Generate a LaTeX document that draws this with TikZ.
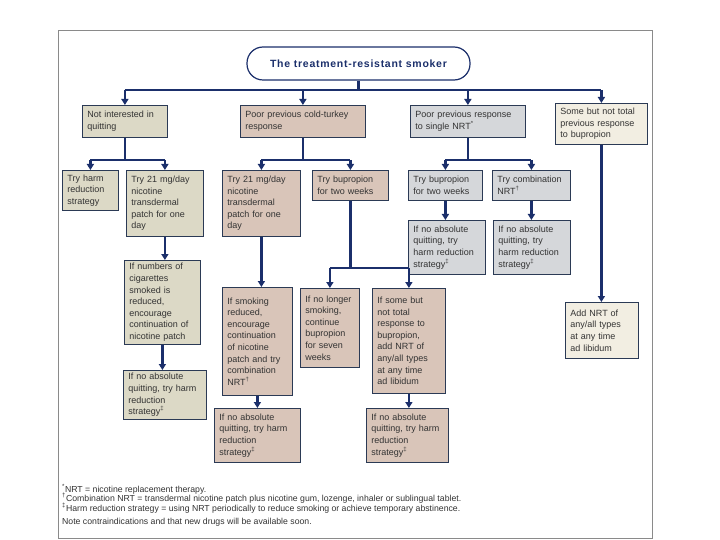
\documentclass[tikz,border=0pt]{standalone}
\usepackage{fontspec}
\setmainfont{Liberation Sans}
\usetikzlibrary{arrows.meta,calc}
\definecolor{navy}{HTML}{1B2F6B}
\definecolor{bord}{HTML}{2B3A55}
\definecolor{beige}{HTML}{DCD9C6}
\definecolor{tan}{HTML}{D9C5B9}
\definecolor{lgray}{HTML}{D5D7DA}
\definecolor{cream}{HTML}{F2EEE2}
\definecolor{txt}{HTML}{333333}
\definecolor{frame}{HTML}{8A8A8A}
\begin{document}
\begin{tikzpicture}[x=1pt,y=-1pt,
  box/.style={draw=bord, line width=0.8pt, anchor=north west, align=left,
    inner xsep=5pt, inner ysep=3pt, text=txt,
    font=\fontsize{9}{11.6}\selectfont},
  conn/.style={draw=navy, line width=2.4pt},
  arr/.style={conn, -{Triangle[width=7pt,length=6pt]}},
  foot/.style={anchor=west, inner sep=0pt, text=txt, font=\fontsize{8.7}{9}\selectfont}]
\useasboundingbox (0,0) rectangle (720,540);
\fill[white] (0,0) rectangle (720,540);
\draw[frame, line width=0.6pt] (58,30) rectangle (652,538);

% title
\node[draw=navy, line width=1.2pt, rounded corners=16pt, fill=white,
  minimum width=223pt, minimum height=33pt, inner sep=0pt,
  text=navy, font=\bfseries\fontsize{10.5}{12}\selectfont\addfontfeatures{LetterSpace=7}]
  (T) at (358.5,63.5) {The treatment-resistant smoker};

% row 1
\node[box, fill=beige, text width=75pt, minimum height=32pt] (A) at (82,105) {Not interested in\\quitting};
\node[box, fill=tan, text width=115pt, minimum height=32pt] (B) at (240,105) {Poor previous cold-turkey\\response};
\node[box, fill=lgray, text width=105pt, minimum height=32pt] (C) at (410,105) {Poor previous response\\to single NRT\textsuperscript{*}};
\node[box, fill=cream, text width=82pt, minimum height=41pt] (D) at (555,103) {Some but not total\\previous response\\to bupropion};

% row 2
\node[box, fill=beige, text width=46pt, minimum height=40pt] (A1) at (62,170) {Try harm\\reduction\\strategy};
\node[box, fill=beige, text width=67pt, minimum height=66pt] (A2) at (126,170) {Try 21 mg/day\\nicotine\\transdermal\\patch for one\\day};
\node[box, fill=tan, text width=68pt, minimum height=66pt] (B1) at (222,170) {Try 21 mg/day\\nicotine\\transdermal\\patch for one\\day};
\node[box, fill=tan, text width=66pt, minimum height=30pt] (B2) at (312,170) {Try bupropion\\for two weeks};
\node[box, fill=lgray, text width=64pt, minimum height=30pt] (C1) at (408,170) {Try bupropion\\for two weeks};
\node[box, fill=lgray, text width=68pt, minimum height=30pt] (C2) at (492,170) {Try combination\\NRT\textsuperscript{†}};

% row 3+
\node[box, fill=beige, text width=66pt, minimum height=84pt] (A3) at (124,260) {If numbers of\\cigarettes\\smoked is\\reduced,\\encourage\\continuation of\\nicotine patch};
\node[box, fill=beige, text width=73pt, minimum height=48pt] (A4) at (123,370) {If no absolute\\quitting, try harm\\reduction\\strategy\textsuperscript{‡}};
\node[box, fill=tan, text width=60pt, minimum height=108pt] (B3) at (222,287) {If smoking\\reduced,\\encourage\\continuation\\of nicotine\\patch and try\\combination\\NRT\textsuperscript{†}};
\node[box, fill=tan, text width=76pt, minimum height=54pt] (B4) at (214,408) {If no absolute\\quitting, try harm\\reduction\\strategy\textsuperscript{‡}};
\node[box, fill=tan, text width=49pt, minimum height=79pt] (B5) at (300,288) {If no longer\\smoking,\\continue\\bupropion\\for seven\\weeks};
\node[box, fill=tan, text width=63pt, minimum height=105pt] (B6) at (372,288) {If some but\\not total\\response to\\bupropion,\\add NRT of\\any/all types\\at any time\\ad libidum};
\node[box, fill=tan, text width=72pt, minimum height=54pt] (B7) at (366,408) {If no absolute\\quitting, try harm\\reduction\\strategy\textsuperscript{‡}};
\node[box, fill=lgray, text width=67pt, minimum height=54pt] (C3) at (408,220) {If no absolute\\quitting, try\\harm reduction\\strategy\textsuperscript{‡}};
\node[box, fill=lgray, text width=67pt, minimum height=54pt] (C4) at (493,220) {If no absolute\\quitting, try\\harm reduction\\strategy\textsuperscript{‡}};
\node[box, fill=cream, text width=63pt, minimum height=56pt] (D1) at (565,302) {Add NRT of\\any/all types\\at any time\\ad libidum};

% connectors: title to row 1
\coordinate (bus) at (0,90);
\draw[conn] (T.south) -- (T.south |- bus);
\draw[conn] (bus -| A.north) -- (bus -| D.north);
\foreach \n in {A,B,C,D} \draw[arr] (bus -| \n.north) -- (\n.north);

% A branch
\coordinate (busA) at (0,160);
\draw[conn] (A.south) -- (A.south |- busA);
\draw[conn] (busA -| A1.north) -- (busA -| A2.north);
\draw[arr] (busA -| A1.north) -- (A1.north);
\draw[arr] (busA -| A2.north) -- (A2.north);
\draw[arr] (A2.south) -- (A2.south |- A3.north);
\draw[arr] (A3.south) -- (A3.south |- A4.north);

% B branch
\draw[conn] (B.south) -- (B.south |- busA);
\draw[conn] (busA -| B1.north) -- (busA -| B2.north);
\draw[arr] (busA -| B1.north) -- (B1.north);
\draw[arr] (busA -| B2.north) -- (B2.north);
\draw[arr] (B1.south) -- (B1.south |- B3.north);
\draw[arr] (B3.south) -- (B3.south |- B4.north);
\coordinate (busB) at (0,268);
\draw[conn] (B2.south) -- (B2.south |- busB);
\draw[conn] (busB -| B5.north) -- (busB -| B6.north);
\draw[arr] (busB -| B5.north) -- (B5.north);
\draw[arr] (busB -| B6.north) -- (B6.north);
\draw[arr] (B6.south) -- (B6.south |- B7.north);

% C branch
\draw[conn] (C.south) -- (C.south |- busA);
\draw[conn] (busA -| C1.north) -- (busA -| C2.north);
\draw[arr] (busA -| C1.north) -- (C1.north);
\draw[arr] (busA -| C2.north) -- (C2.north);
\draw[arr] (C1.south) -- (C1.south |- C3.north);
\draw[arr] (C2.south) -- (C2.south |- C4.north);

% D branch
\draw[arr] (D.south) -- (D.south |- D1.north);

% footnotes
\node[foot] (f1) at (62,489) {\textsuperscript{*}NRT = nicotine replacement therapy.};
\node[foot] (f2) at (62,498.5) {\textsuperscript{†}Combination NRT = transdermal nicotine patch plus nicotine gum, lozenge, inhaler or sublingual tablet.};
\node[foot] (f3) at (62,508) {\textsuperscript{‡}Harm reduction strategy = using NRT periodically to reduce smoking or achieve temporary abstinence.};
\node[foot] (f4) at (62,522) {Note contraindications and that new drugs will be available soon.};
\end{tikzpicture}
\end{document}
